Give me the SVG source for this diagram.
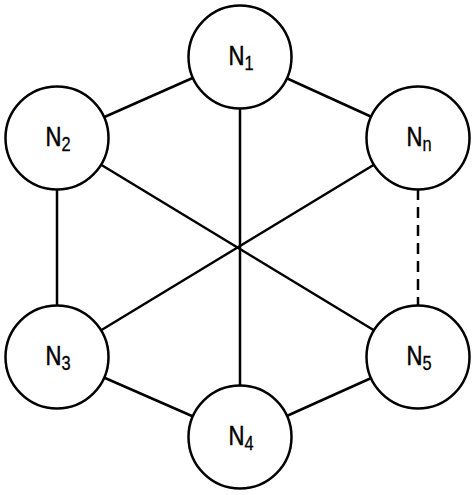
<svg xmlns="http://www.w3.org/2000/svg" width="474" height="495" viewBox="0 0 474 495">
<style>
.n{fill:#fff;stroke:#000;stroke-width:2.5}
.e{stroke:#000;stroke-width:2.5;fill:none}
.d{stroke-dasharray:11 7}
.t{font-family:"Liberation Sans",Arial,sans-serif;font-size:27px;fill:#000;stroke:#000;stroke-width:0.5;text-anchor:middle}
.s{font-size:20px;stroke-width:0.3}
</style>
<rect width="474" height="495" fill="#fff"/>
<g id="connectors">
<line class="e" x1="240" y1="57" x2="57" y2="138"/>
<line class="e" x1="240" y1="57" x2="418" y2="138"/>
<line class="e" x1="57" y1="138" x2="57" y2="357"/>
<line class="e d" x1="418" y1="189" x2="418" y2="306"/>
<line class="e" x1="57" y1="357" x2="240" y2="437"/>
<line class="e" x1="240" y1="437" x2="418" y2="357"/>
<line class="e" x1="240" y1="57" x2="240" y2="437"/>
<line class="e" x1="57" y1="138" x2="418" y2="357"/>
<line class="e" x1="418" y1="138" x2="57" y2="357"/>
</g>
<g id="N1"><circle class="n" cx="240" cy="57" r="51.5"/><text class="t" transform="translate(241,65) scale(0.82,1)">N<tspan class="s" dy="5">1</tspan></text></g>
<g id="N2"><circle class="n" cx="57" cy="138" r="51.5"/><text class="t" transform="translate(58,146) scale(0.82,1)">N<tspan class="s" dy="5">2</tspan></text></g>
<g id="Nn"><circle class="n" cx="418" cy="138" r="51.5"/><text class="t" transform="translate(419,146) scale(0.82,1)">N<tspan class="s" dy="5">n</tspan></text></g>
<g id="N3"><circle class="n" cx="57" cy="357" r="51.5"/><text class="t" transform="translate(58,365) scale(0.82,1)">N<tspan class="s" dy="5">3</tspan></text></g>
<g id="N4"><circle class="n" cx="240" cy="437" r="51.5"/><text class="t" transform="translate(241,445) scale(0.82,1)">N<tspan class="s" dy="5">4</tspan></text></g>
<g id="N5"><circle class="n" cx="418" cy="357" r="51.5"/><text class="t" transform="translate(419,365) scale(0.82,1)">N<tspan class="s" dy="5">5</tspan></text></g>
</svg>
